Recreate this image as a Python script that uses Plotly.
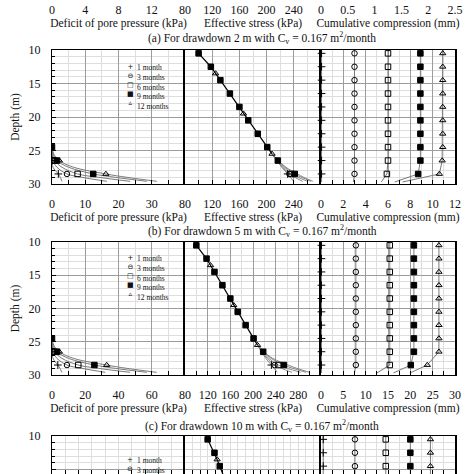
import plotly.graph_objects as go

FONT = "Liberation Serif, Times New Roman, serif"
W = 474
H = 474

months = ["1 month", "3 months", "6 months", "9 months", "12 months"]
symbols = ["cross-thin", "circle-open", "square-open", "square", "triangle-up-open"]
legend_glyphs = ["+", "⊖", "□", "■", "▵"]

# ---------------- deficit of pore pressure (kPa) ----------------
def_depth = [24.5, 25.5, 26.5, 27.5, 28.5, 29.0, 29.6]
def_a_1m = [0, 0, 0, 0.3, 1.9, 2.5, 3.0]
def_a_3m = [0, 0, 0.3, 1.5, 4.5, 9.0, 16.5]
def_a_6m = [0, 0.1, 0.8, 3.0, 7.7, 14.0, 23.5]
def_a_9m = [0, 0.3, 1.5, 5.0, 12.4, 19.0, 28.5]
def_a_12m = [0, 0.5, 2.2, 6.5, 16.2, 22.5, 31.5]

def_b_1m = [0, 0, 0, 0.6, 3.5, 4.8, 6.0]
def_b_3m = [0, 0, 0.6, 3.0, 9.0, 18.0, 32.0]
def_b_6m = [0, 0.2, 1.6, 6.0, 15.8, 28.0, 47.0]
def_b_9m = [0, 0.6, 3.0, 10.0, 25.5, 38.0, 57.0]
def_b_12m = [0, 1.0, 4.4, 13.0, 32.9, 45.0, 63.0]

# ---------------- effective stress (kPa) ----------------
eff_base_depth = [10.5, 12.5, 13.5, 14.5, 16.5, 18.5, 19.5, 20.5, 22.5, 24.5, 25.5]
eff_base = [100, 118, 125, 132, 146, 160, 166, 173, 187, 201, 208]
eff_tail_depth = [25.5, 26.5, 27.5, 28.5, 29.0, 29.6]
eff_a_1m = [208, 215, 222.3, 230.9, 235, 239.7]
eff_a_3m = [208, 215.3, 223.5, 233.5, 241.5, 253]
eff_a_6m = [208.1, 215.8, 225, 236.7, 246.5, 260]
eff_a_9m = [208.3, 216.5, 227, 241.4, 251.5, 265]
eff_a_12m = [208.5, 217.2, 228.5, 245.2, 254.5, 268]

eff_b_1m = [208, 215, 222.6, 232.5, 237.3, 242.7]
eff_b_3m = [208, 215.6, 225, 238, 250.5, 268.7]
eff_b_6m = [208.2, 216.6, 228, 244.8, 260.5, 283.7]
eff_b_9m = [208.6, 218, 232, 254.5, 270.5, 293.7]
eff_b_12m = [209, 219.4, 235, 261.9, 277.5, 299.7]

# ---------------- cumulative compression (mm) ----------------
comp_depth = [10.0, 10.5, 12.5, 14.5, 16.5, 18.5, 20.5, 22.5, 24.5, 26.5, 28.5, 29.7]
comp_a_1m = [0.05, 0.05, 0.05, 0.05, 0.05, 0.05, 0.05, 0.05, 0.05, 0.05, 0.05, 0.05]
comp_a_3m = [3.0, 3.0, 3.0, 3.0, 3.0, 3.0, 3.0, 3.0, 3.0, 3.0, 3.0, 2.9]
comp_a_6m = [6.0, 6.0, 6.0, 6.0, 6.0, 6.0, 6.0, 6.0, 6.0, 6.0, 5.9, 5.4]
comp_a_9m = [8.9, 8.9, 8.9, 8.9, 8.9, 8.9, 8.9, 8.9, 8.9, 8.9, 8.7, 6.6]
comp_a_12m = [10.9, 10.9, 10.9, 10.9, 10.9, 10.9, 10.9, 10.9, 10.9, 10.85, 10.6, 7.3]

comp_b_1m = [0.1, 0.1, 0.1, 0.1, 0.1, 0.1, 0.1, 0.1, 0.1, 0.1, 0.1, 0.1]
comp_b_3m = [7.8, 7.8, 7.8, 7.8, 7.8, 7.8, 7.8, 7.8, 7.8, 7.8, 7.8, 7.5]
comp_b_6m = [15.4, 15.4, 15.4, 15.4, 15.4, 15.4, 15.4, 15.4, 15.4, 15.4, 15.4, 12.5]
comp_b_9m = [20.8, 20.8, 20.8, 20.8, 20.8, 20.8, 20.8, 20.8, 20.8, 20.8, 20.1, 16.2]
comp_b_12m = [26.4, 26.4, 26.4, 26.4, 26.4, 26.4, 26.4, 26.4, 26.4, 26.4, 23.8, 19.9]

comp_c_depth = [10.0, 10.5, 12.5, 14.5, 16.5]
comp_c_1m = [1.0, 1.0, 1.0, 1.0, 1.0]
comp_c_3m = [15.2, 15.2, 15.2, 15.2, 15.2]
comp_c_6m = [29.0, 29.0, 29.0, 29.0, 29.0]
comp_c_9m = [40.0, 40.0, 40.0, 40.0, 40.0]
comp_c_12m = [49.0, 49.0, 49.0, 49.0, 49.0]

# axis tick labels for each row (top row is the bottom of a panel cut off above)
ticks_def = [[0, 4, 8, 12], [0, 10, 20, 30], [0, 20, 40, 60], []]
ticks_eff = [[80, 120, 160, 200, 240], [80, 120, 160, 200, 240],
             [80, 120, 160, 200, 240, 280], []]
ticks_comp = [[0, 0.5, 1, 1.5, 2, 2.5], [0, 2, 4, 6, 8, 10, 12],
              [0, 5, 10, 15, 20, 25, 30], []]

titles = [
    "(a) For drawdown 2 m with C<sub>v</sub> = 0.167 m<sup>2</sup>/month",
    "(b) For drawdown 5 m with C<sub>v</sub> = 0.167 m<sup>2</sup>/month",
    "(c) For drawdown 10 m with C<sub>v</sub> = 0.167 m<sup>2</sup>/month",
]

# ---------------- layout helpers ----------------
def px(v):
    return v / W


def py(v):
    return 1 - v / H


col_dom = [[px(52), px(185)], [px(185), px(321)], [px(321), px(455)]]
row_dom = [[py(1.2), py(0)], [py(184), py(50)], [py(375), py(242)], [0, py(436)]]
y_rng = [None, [30, 10], [30, 10], [10 + 38 / 6.7, 10]]

# per row: (range, major, minor) for deficit / effective / compression
x_cfg = [
    [([0, 16], 4, 2), ([80, 280], 40, 20), ([0, 2.5], 0.5, 0.25)],
    [([0, 40], 10, 5), ([80, 280], 40, 20), ([0, 12], 2, 1)],
    [([0, 80], 20, 10), ([80, 320], 40, 20), ([0, 30], 5, 2.5)],
    [([0, 100], 20, 10), ([40, 400], 40, 20), ([0, 60], 10, 5)],
]
x_titles = ["Deficit of pore pressure (kPa)", "Effective stress (kPa)",
            "Cumulative compression (mm)"]
all_ticks = [ticks_def, ticks_eff, ticks_comp]

MAJ = "#9c9c9c"
MIN = "#dedede"
LINE = "#7a7a7a"
tick_font = dict(family=FONT, size=12, color="#111")
title_font = dict(family=FONT, size=11.5, color="#111")

# y-axis frame per column: the two inner boundaries are drawn heavier
y_line = [dict(linewidth=1, mirror=False), dict(linewidth=2, mirror=False),
          dict(linewidth=1.5, mirror=True)]

fig = go.Figure()
layout = {}
ax_id = {}
n = 0
for r in range(4):
    for c in range(3):
        n += 1
        ax_id[(r, c)] = n
        rng, major, minor = x_cfg[r][c]
        xa = dict(domain=col_dom[c], anchor="y%d" % n, range=rng,
                  tickmode="array", tickvals=all_ticks[c][r],
                  tickfont=tick_font, showgrid=False, zeroline=False,
                  fixedrange=True)
        ya = dict(domain=row_dom[r], anchor="x%d" % n, zeroline=False,
                  fixedrange=True)
        if r == 0:
            xa.update(showline=False, ticks="", ticklabelstandoff=0,
                      title=dict(text=x_titles[c], standoff=2, font=title_font))
            ya.update(visible=False, range=[0, 1])
        else:
            xa.update(showline=True, mirror=True, linecolor="black", linewidth=1,
                      showgrid=True, gridcolor=MAJ, gridwidth=1,
                      ticks="inside", ticklen=4, tickcolor="black",
                      minor=dict(dtick=minor, tick0=0, showgrid=True,
                                 gridcolor=MIN, ticks="inside", ticklen=4,
                                 tickcolor="black"),
                      ticklabelstandoff=9)
            if r < 3:
                xa["title"] = dict(text=x_titles[c], standoff=2, font=title_font)
            ya.update(range=y_rng[r], showline=True, linecolor="black",
                      showgrid=True, gridcolor=MAJ, dtick=5, tick0=0,
                      minor=dict(dtick=1, showgrid=True, gridcolor=MIN),
                      **y_line[c])
            if c == 0:
                ya.update(tickfont=tick_font, ticks="inside", ticklen=4,
                          tickcolor="black", ticklabelstandoff=8,
                          minor=dict(dtick=1, showgrid=True, gridcolor=MIN,
                                     ticks="inside", ticklen=3, tickcolor="black"))
                if r < 3:
                    ya["title"] = dict(text="Depth (m)", standoff=6, font=title_font)
            else:
                ya.update(showticklabels=False, ticks="")
        layout["xaxis%d" % n] = xa
        layout["yaxis%d" % n] = ya
        # empty trace so every subplot is registered
        fig.add_trace(go.Scatter(x=[], y=[], xaxis="x%d" % n, yaxis="y%d" % n,
                                 showlegend=False, hoverinfo="skip"))


def axes(r, c):
    k = ax_id[(r, c)]
    return dict(xaxis="x%d" % k, yaxis="y%d" % k)


def mk(i):
    return dict(symbol=symbols[i], size=5.5, color="black",
                line=dict(width=1, color="black"))


draw_order = [0, 1, 2, 4, 3]

# rows 1 and 2: full panels
panels = [
    (1, [def_a_1m, def_a_3m, def_a_6m, def_a_9m, def_a_12m],
     [eff_a_1m, eff_a_3m, eff_a_6m, eff_a_9m, eff_a_12m],
     [comp_a_1m, comp_a_3m, comp_a_6m, comp_a_9m, comp_a_12m]),
    (2, [def_b_1m, def_b_3m, def_b_6m, def_b_9m, def_b_12m],
     [eff_b_1m, eff_b_3m, eff_b_6m, eff_b_9m, eff_b_12m],
     [comp_b_1m, comp_b_3m, comp_b_6m, comp_b_9m, comp_b_12m]),
]

for r, defs, effs, comps in panels:
    # deficit of pore pressure
    for i in range(5):
        fig.add_trace(go.Scatter(x=defs[i], y=def_depth, mode="lines",
                                 line=dict(color=LINE, width=1, shape="spline"),
                                 showlegend=False, hoverinfo="skip", **axes(r, 0)))
    for i in draw_order:
        idx = [0, 2, 4] if i == 3 else [2, 4]
        fig.add_trace(go.Scatter(x=[defs[i][j] for j in idx],
                                 y=[def_depth[j] for j in idx],
                                 mode="markers", marker=mk(i), name=months[i],
                                 showlegend=False, **axes(r, 0)))
    # effective stress
    for i in range(5):
        fig.add_trace(go.Scatter(x=effs[i], y=eff_tail_depth, mode="lines",
                                 line=dict(color=LINE, width=0.9, shape="spline"),
                                 showlegend=False, hoverinfo="skip", **axes(r, 1)))
    fig.add_trace(go.Scatter(x=eff_base, y=eff_base_depth, mode="lines",
                             line=dict(color="black", width=1.2),
                             showlegend=False, hoverinfo="skip", **axes(r, 1)))
    for i in [0, 1, 2]:
        fig.add_trace(go.Scatter(x=[effs[i][3]], y=[eff_tail_depth[3]],
                                 mode="markers", marker=mk(i), showlegend=False,
                                 **axes(r, 1)))
    b12 = [2, 6, 10]
    fig.add_trace(go.Scatter(x=[eff_base[j] for j in b12],
                             y=[eff_base_depth[j] for j in b12],
                             mode="markers", marker=mk(4), showlegend=False,
                             **axes(r, 1)))
    b9 = [0, 1, 3, 4, 5, 7, 8, 9]
    fig.add_trace(go.Scatter(x=[eff_base[j] for j in b9] + [effs[3][1], effs[3][3]],
                             y=[eff_base_depth[j] for j in b9] + [eff_tail_depth[1], eff_tail_depth[3]],
                             mode="markers", marker=mk(3), showlegend=False,
                             **axes(r, 1)))
    # cumulative compression
    for i in range(5):
        fig.add_trace(go.Scatter(x=comps[i], y=comp_depth, mode="lines",
                                 line=dict(color=LINE, width=1),
                                 showlegend=False, hoverinfo="skip", **axes(r, 2)))
    for i in draw_order:
        fig.add_trace(go.Scatter(x=comps[i][1:11], y=comp_depth[1:11],
                                 mode="markers", marker=mk(i), showlegend=False,
                                 cliponaxis=False, **axes(r, 2)))

# row 3: panel (c), only its top part is in view
fig.add_trace(go.Scatter(x=eff_base, y=eff_base_depth, mode="lines",
                         line=dict(color="black", width=1.2),
                         showlegend=False, hoverinfo="skip", **axes(3, 1)))
fig.add_trace(go.Scatter(x=[eff_base[j] for j in [2, 6]], y=[eff_base_depth[j] for j in [2, 6]],
                         mode="markers", marker=mk(4), showlegend=False, **axes(3, 1)))
fig.add_trace(go.Scatter(x=[eff_base[j] for j in [0, 1, 3, 4, 5]],
                         y=[eff_base_depth[j] for j in [0, 1, 3, 4, 5]],
                         mode="markers", marker=mk(3), showlegend=False, **axes(3, 1)))
comps_c = [comp_c_1m, comp_c_3m, comp_c_6m, comp_c_9m, comp_c_12m]
for i in range(5):
    fig.add_trace(go.Scatter(x=comps_c[i], y=comp_c_depth, mode="lines",
                             line=dict(color=LINE, width=1),
                             showlegend=False, hoverinfo="skip", **axes(3, 2)))
for i in draw_order:
    fig.add_trace(go.Scatter(x=comps_c[i][1:], y=comp_c_depth[1:], mode="markers",
                             marker=mk(i), showlegend=False, cliponaxis=False,
                             **axes(3, 2)))

# panel titles and the small month keys
ann = []
for k, t in enumerate(titles):
    ann.append(dict(text=t, x=px(262), y=py([38, 231, 426][k]), xref="paper",
                    yref="paper", showarrow=False, xanchor="center", yanchor="middle",
                    font=title_font))
# (c) is cut by the lower edge: only its first two keys are in view
for top, nkeys in [(61, 5), (252, 5), (454, 2)]:
    ann.append(dict(text="<br>".join(legend_glyphs[:nkeys]), x=px(130), y=py(top),
                    xref="paper", yref="paper", showarrow=False, xanchor="center",
                    yanchor="top", align="center",
                    font=dict(family="DejaVu Sans", size=7, color="#111")))
    ann.append(dict(text="<br>".join(months[:nkeys]), x=px(135), y=py(top),
                    xref="paper", yref="paper", showarrow=False, xanchor="left",
                    yanchor="top", align="left",
                    font=dict(family=FONT, size=7.5, color="#111")))

fig.update_layout(width=W, height=H, margin=dict(l=0, r=0, t=0, b=0),
                  paper_bgcolor="white", plot_bgcolor="white",
                  template="none", showlegend=False, annotations=ann, **layout)

# drop the browser's default 8px page margin so the figure sits at the corner
fig.write_html("out.html", config={"displayModeBar": False},
               post_script="document.body.style.margin='0';")
